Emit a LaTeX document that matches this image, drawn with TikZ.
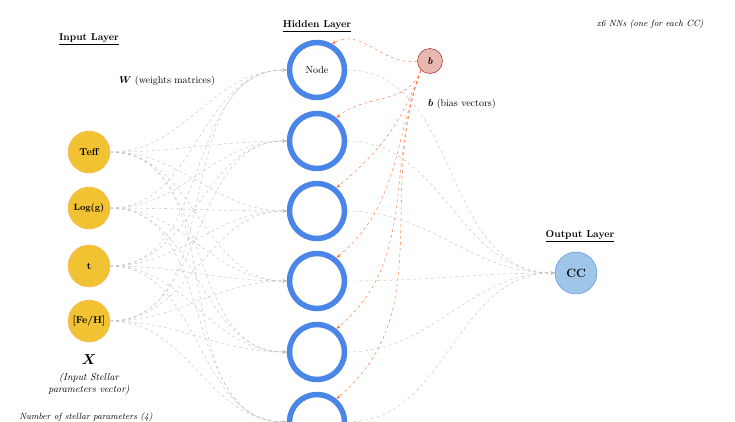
\documentclass[tikz,border=0pt]{standalone}
\usepackage{amsmath,bm}
\usetikzlibrary{arrows.meta}
\definecolor{hb}{HTML}{4A86E8}
\definecolor{ib}{HTML}{F1C232}
\definecolor{ob}{HTML}{9FC5E8}
\definecolor{bb}{HTML}{E6B8AF}
\begin{document}
\begin{tikzpicture}[x=1pt,y=-1pt,
  inp/.style={circle,fill=ib,draw=orange!60,minimum size=42pt,inner sep=0pt,font=\bfseries},
  hid/.style={circle,draw=hb,line width=5.5pt,minimum size=55pt,inner sep=0pt},
  bias/.style={circle,fill=bb,draw=red!60!black,minimum size=25pt,inner sep=0pt,font=\bfseries\itshape},
  outp/.style={circle,fill=ob,draw=hb,minimum size=42pt,inner sep=0pt,font=\bfseries\large},
  w/.style={gray!50,dashed,thin,-{Stealth[length=4pt]}},
  rb/.style={red!45!orange!80,dashed,thin,-{Stealth[length=4pt]}},
  ttl/.style={font=\bfseries}]
\useasboundingbox (0,0) rectangle (735,421);
\begin{scope}
\clip (0,0) rectangle (735,421);
\node[inp] (i1) at (89,152) {Teff};
\node[inp,font=\bfseries\small] (i2) at (89,208) {Log(g)};
\node[inp] (i3) at (89,266) {t};
\node[inp] (i4) at (89,321) {[Fe/H]};
\foreach \k/\y in {1/70,2/141,3/211,4/281,5/352,6/422}{
  \node[hid] (h\k) at (317,\y) {};
}
\node at (h1) {Node};
\node[bias] (b) at (430,61) {b};
\node[outp] (cc) at (576,273) {CC};
\foreach \i in {1,...,4}{
  \foreach \k in {1,...,6}{
    \draw[w] (i\i.east) to[out=0,in=180] (h\k.west);
  }
}
\draw[rb] (b.west) to[out=190,in=30] (h1.60);
\foreach \k in {2,...,6}{
  \draw[rb] (b.south west) to[out=250,in=40] (h\k.50);
}
\foreach \k in {1,...,6}{
  \draw[w] (h\k.east) to[out=0,in=180] (cc.west);
}
\end{scope}
\node[ttl] at (89,39) {\underline{Input Layer}};
\node[ttl] at (317,26) {\underline{Hidden Layer}};
\node[ttl] at (580,236) {\underline{Output Layer}};
\node at (167,81) {$\bm{W}$ (weights matrices)};
\node at (462,104) {$\bm{b}$ (bias vectors)};
\node[font=\small\itshape] at (650,24) {x6 NNs (one for each CC)};
\node[font=\Large] at (89,360) {$\bm{X}$};
\node[font=\itshape,align=center] at (89,384) {(Input Stellar\\parameters vector)};
\node[font=\small\itshape] at (86,417) {Number of stellar parameters (4)};
\end{tikzpicture}
\end{document}
